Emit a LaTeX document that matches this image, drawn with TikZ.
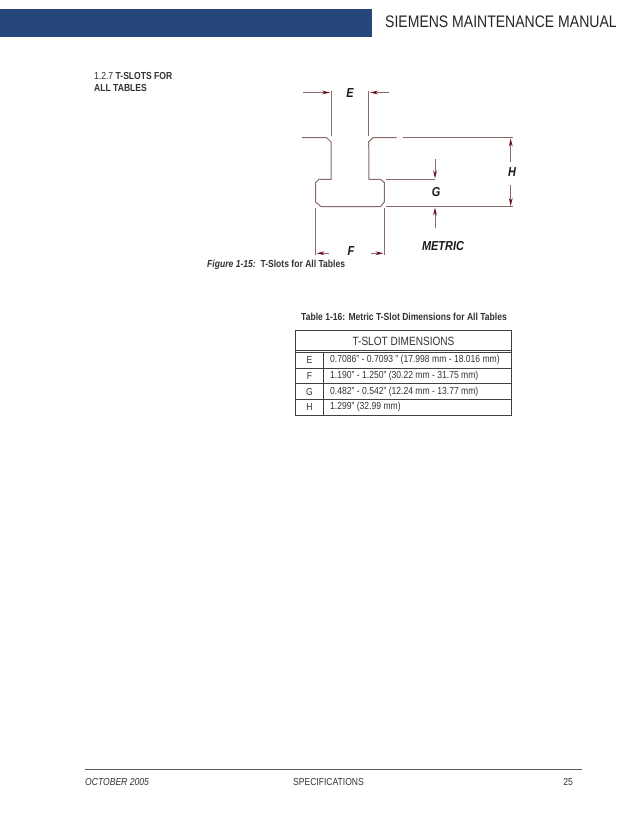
\documentclass[tikz,border=0pt]{standalone}
\usepackage{fontspec}
\usetikzlibrary{arrows.meta}
\setmainfont{Liberation Sans}[FakeStretch=0.84]
\definecolor{barblue}{HTML}{26477B}
\definecolor{dimline}{HTML}{8A6A68}
\definecolor{dimhead}{HTML}{6E1020}
\definecolor{inkgray}{HTML}{333333}
\newcommand{\fs}[1]{\fontsize{#1}{#1}\selectfont}
\tikzset{
  x=1pt,y=-1pt,
  txt/.style={inner sep=0pt,text=inkgray,font=\fs{10.2}},
  lab/.style={inner sep=0pt,text=black!90,font=\bfseries\itshape\fs{13}},
  dimwire/.style={draw=dimline,line width=1pt},
  dimarrow/.style={draw=dimline,line width=1pt,-{Stealth[length=8pt,width=3.8pt,color=dimhead]}},
  rule/.style={draw=black!75,line width=0.8pt}
}
\begin{document}
\begin{tikzpicture}
\useasboundingbox (0,0) rectangle (638,826);
\fill[white] (0,0) rectangle (638,826);
% header
\fill[barblue] (0,9.5) rectangle (372,37.5);
\node[txt,anchor=west,font=\fs{16.7},text=black!85] (title) at (385,22) {SIEMENS MAINTENANCE MANUAL};
% section label
\node[txt,anchor=west] (sec1) at (94,76) {1.2.7 \textbf{T-SLOTS FOR}};
\node[txt,anchor=west] (sec2) at (94,88) {\textbf{ALL TABLES}};
% slot outline
\draw[dimwire] (302,137.7) -- (326.7,137.7) -- (331,142) -- (331,179.3) -- (319,179.3) -- (315.7,182.5) -- (315.7,202) -- (321,206.7) -- (380.5,206.7) -- (384.3,202) -- (384.3,182.5) -- (380.5,179.3) -- (369,179.3) -- (368.7,142) -- (373,137.7) -- (396.7,137.7);
\draw[dimwire] (402.7,137.7) -- (512.7,137.7);
\draw[dimwire] (385.7,179.3) -- (435,179.3);
\draw[dimwire] (385.7,206.7) -- (512.7,206.7);
% E
\draw[dimwire] (331,91) -- (331,136);
\draw[dimwire] (368.7,91) -- (368.7,136);
\draw[dimarrow] (303,92.5) -- (330,92.5);
\draw[dimarrow] (389,92.5) -- (370,92.5);
% F
\draw[dimwire] (315.7,208.5) -- (315.7,255);
\draw[dimwire] (384.3,208.5) -- (384.3,255);
\draw[dimarrow] (329,253.3) -- (316.5,253.3);
\draw[dimarrow] (371,253.3) -- (383.5,253.3);
% G
\draw[dimarrow] (435,159.3) -- (435,178.5);
\draw[dimarrow] (435,227.7) -- (435,207.5);
% H
\draw[dimarrow] (510.7,162) -- (510.7,138.5);
\draw[dimarrow] (510.7,185) -- (510.7,206);
% labels
\node[lab] (E) at (350,93.5) {E};
\node[lab] (F) at (351,251.5) {F};
\node[lab] (G) at (436,192) {G};
\node[lab] (H) at (512,172.5) {H};
\node[lab] (M) at (443,246) {METRIC};
% caption
\node[txt,anchor=west] (figcap) at (207,265) {\textbf{\textit{Figure 1-15:}}\ \ \textbf{T-Slots for All Tables}};
\node[txt,anchor=west] (tabcap) at (301,317) {\textbf{Table 1-16: Metric T-Slot Dimensions for All Tables}};
% table
\draw[rule] (295,330) rectangle (511.7,415);
\draw[rule] (295,350) -- (511.7,350);
\draw[rule] (295,352.2) -- (511.7,352.2);
\draw[rule] (295,368.3) -- (511.7,368.3);
\draw[rule] (295,383.6) -- (511.7,383.6);
\draw[rule] (295,399.3) -- (511.7,399.3);
\draw[rule] (323.7,352.2) -- (323.7,415);
\node[txt,font=\fs{12}] (thead) at (403.5,341) {T-SLOT DIMENSIONS};
\node[txt] (e1) at (309.5,360.3) {E};
\node[txt] (f1) at (309.5,376) {F};
\node[txt] (g1) at (309.5,391.5) {G};
\node[txt] (h1) at (309.5,407.2) {H};
\node[txt,anchor=west] (e2) at (330,360.3) {0.7086" - 0.7093 " (17.998 mm - 18.016 mm)};
\node[txt,anchor=west] (f2) at (330,376) {1.190" - 1.250" (30.22 mm - 31.75 mm)};
\node[txt,anchor=west] (g2) at (330,391.5) {0.482" - 0.542" (12.24 mm - 13.77 mm)};
\node[txt,anchor=west] (h2) at (330,407.2) {1.299" (32.99 mm)};
% footer
\draw[draw=black!65,line width=0.8pt] (85,769.5) -- (582,769.5);
\node[txt,anchor=west] (fl) at (85,782) {\textit{OCTOBER 2005}};
\node[txt] (fc) at (328.5,782) {SPECIFICATIONS};
\node[txt,anchor=east] (fr) at (573,782) {25};
\end{tikzpicture}
\end{document}
